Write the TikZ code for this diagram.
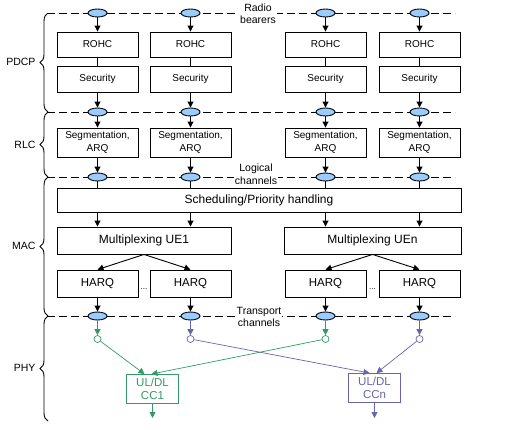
\documentclass[tikz,border=0pt]{standalone}
\usepackage{fontspec}
\setmainfont{Liberation Sans}
\usetikzlibrary{shapes.geometric,decorations.pathreplacing,arrows.meta}

\definecolor{ccgreen}{RGB}{51,153,102}
\definecolor{ccpurple}{RGB}{102,102,170}
\definecolor{sapblue}{RGB}{153,204,255}

\begin{document}
\begin{tikzpicture}[x=1pt,y=-1pt,
        font=\fontsize{10}{12.5}\selectfont,
        box/.style={draw,line width=0.9pt,minimum width=81pt,minimum height=25pt,inner sep=0pt,align=center},
        macbox/.style={box,font=\fontsize{12}{14}\selectfont},
        sap/.style={ellipse,draw,line width=0.9pt,fill=sapblue,minimum width=19pt,minimum height=8pt,inner sep=0pt},
        arr/.style={-{Triangle[length=6pt,width=6pt]},line width=0.9pt},
        sapline/.style={dash pattern=on 8pt off 4pt,line width=0.9pt},
        layer/.style={decorate,decoration={brace,amplitude=8pt},line width=0.9pt},
        layerlabel/.style={anchor=east,font=\fontsize{10.5}{12.5}\selectfont},
        chlabel/.style={fill=white,align=center,inner sep=1pt,font=\fontsize{10.5}{12.5}\selectfont},
        ccbox/.style={draw,line width=0.9pt,minimum width=52pt,minimum height=29pt,inner sep=0pt,align=center,font=\fontsize{11.5}{13.5}\selectfont},
        port/.style={circle,draw,fill=white,line width=0.7pt,minimum size=7pt,inner sep=0pt}]
        \useasboundingbox (0,0) rectangle (509,429);
        % 定义虚线 (SAP)
        \foreach \y in {13,112,177,316}
            \draw[sapline] (47,\y) -- (455,\y);
        % 通道标签
        \node[chlabel] (rblabel) at (258,13.5) {Radio\\bearers};
        \node[chlabel] (lclabel) at (256,174) {Logical\\channels};
        \node[chlabel] (tclabel) at (259,317) {Transport\\channels};
        % 层次括号
        \draw[layer] (48,112) -- (48,13);
        \draw[layer] (48,177) -- (48,112);
        \draw[layer] (48,316) -- (48,177);
        \draw[layer] (48,421) -- (48,316);
        \node[layerlabel] (pdcp) at (39,62) {PDCP};
        \node[layerlabel] (rlc) at (39,145) {RLC};
        \node[layerlabel] (mac) at (39,246) {MAC};
        \node[layerlabel] (phy) at (39,368) {PHY};
        % 各列方框
        \foreach \x [count=\i] in {97.5,190.5,325.5,419.5} {
            \node[box] (rohc\i) at (\x,44.5) {ROHC};
            \node[box,minimum height=26pt] (sec\i) at (\x,79) {Security};
            \node[box,minimum height=29pt] (seg\i) at (\x,142.5) {Segmentation,\\ARQ};
            \node[box,minimum height=27pt,font=\fontsize{11.5}{13.5}\selectfont] (harq\i) at (\x,283.5) {HARQ};
        }
        % MAC 方框
        \node[macbox,minimum width=404pt,minimum height=24pt] (sched) at (259,200) {Scheduling/Priority handling};
        \node[macbox,minimum width=174pt,minimum height=27pt] (mux1) at (144,240.5) {Multiplexing UE1};
        \node[macbox,minimum width=177pt,minimum height=27pt] (muxn) at (372.5,240.5) {Multiplexing UEn};
        \node[font=\fontsize{8}{8}\selectfont,inner sep=0pt,anchor=base] (dots1) at (144,289) {...};
        \node[font=\fontsize{8}{8}\selectfont,inner sep=0pt,anchor=base] (dots2) at (372.5,289) {...};
        % 各列连线和 SAP 椭圆
        \foreach \x [count=\i] in {97.5,190.5,325.5,419.5} {
            \node[sap] (rb\i) at (\x,13) {};
            \node[sap] (pr\i) at (\x,112) {};
            \node[sap] (lc\i) at (\x,177) {};
            \node[sap] (tc\i) at (\x,316) {};
            \draw[arr] (rb\i) -- (rohc\i);
            \draw[line width=0.9pt] (rohc\i) -- (sec\i);
            \draw[arr] (sec\i) -- (pr\i);
            \draw[arr] (pr\i) -- (seg\i);
            \draw[arr] (seg\i) -- (lc\i);
            \draw[line width=0.9pt] (lc\i) -- (lc\i |- sched.north);
            \draw[arr] (harq\i) -- (tc\i);
        }
        \draw[arr] (sched.south -| lc1) -- (mux1.north -| lc1);
        \draw[arr] (sched.south -| lc2) -- (mux1.north -| lc2);
        \draw[arr] (sched.south -| lc3) -- (muxn.north -| lc3);
        \draw[arr] (sched.south -| lc4) -- (muxn.north -| lc4);
        \draw[arr] (mux1.south) -- (harq1.north);
        \draw[arr] (mux1.south) -- (harq2.north);
        \draw[arr] (muxn.south) -- (harq3.north);
        \draw[arr] (muxn.south) -- (harq4.north);
        % 物理层载波
        \node[ccbox,draw=ccgreen,text=ccgreen] (cc1) at (152.5,389) {UL/DL\\CC1};
        \node[ccbox,draw=ccpurple,text=ccpurple] (ccn) at (374.5,388) {UL/DL\\CCn};
        \node[port,draw=ccgreen] (port1) at (97.5,339) {};
        \node[port,draw=ccpurple] (port2) at (190.5,339) {};
        \node[port,draw=ccgreen] (port3) at (325.5,339) {};
        \node[port,draw=ccpurple] (port4) at (419.5,339) {};
        \draw[arr,ccgreen] (tc1) -- (port1);
        \draw[arr,ccpurple] (tc2) -- (port2);
        \draw[arr,ccgreen] (tc3) -- (port3);
        \draw[arr,ccpurple] (tc4) -- (port4);
        \draw[arr,ccgreen,line width=0.7pt] (port1) -- ([xshift=-8pt]cc1.north);
        \draw[arr,ccgreen,line width=0.7pt] (port3) -- ([xshift=-1pt]cc1.north);
        \draw[arr,ccpurple,line width=0.7pt] (port2) -- ([xshift=-5pt]ccn.north);
        \draw[arr,ccpurple,line width=0.7pt] (port4) -- ([xshift=2pt]ccn.north);
        \coordinate (out1) at (152.5,418);
        \coordinate (outn) at (374.5,418);
        \draw[arr,ccgreen] (cc1.south) -- (out1);
        \draw[arr,ccpurple] (ccn.south) -- (outn);
\end{tikzpicture}
\end{document}
